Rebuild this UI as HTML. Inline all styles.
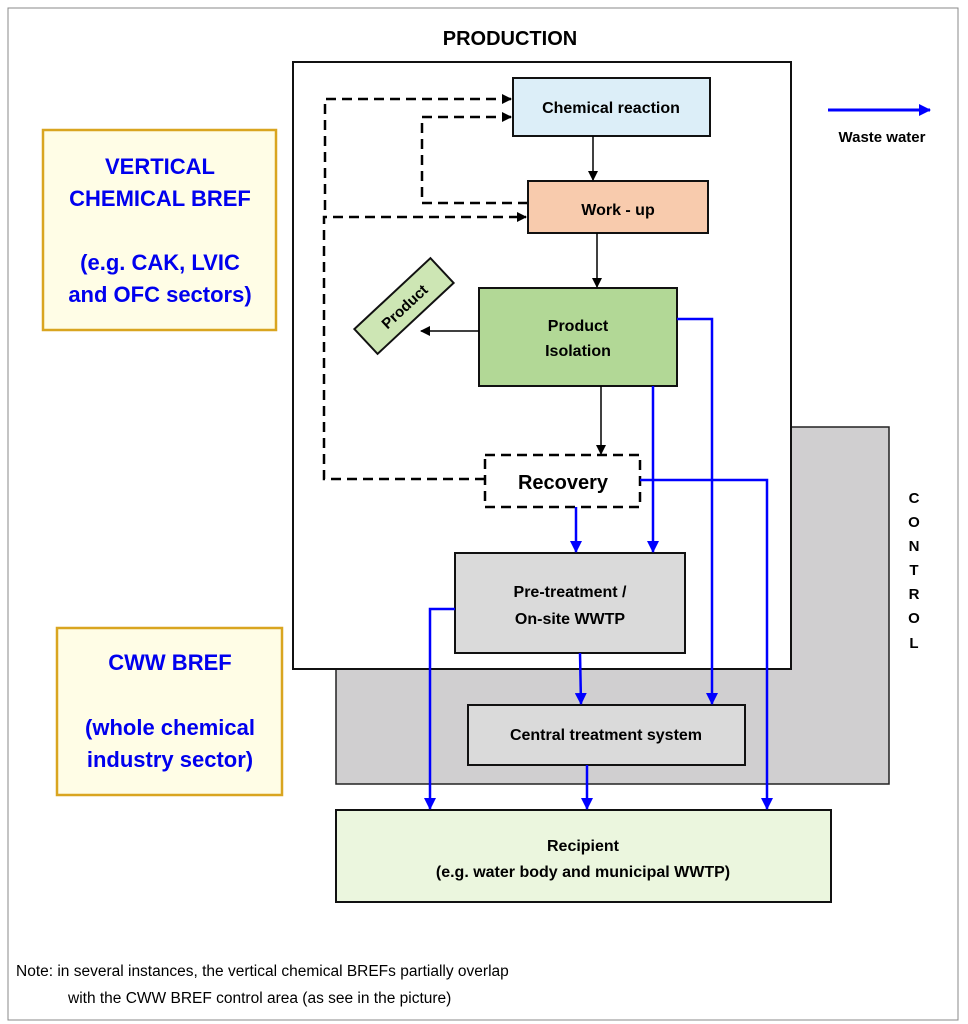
<!DOCTYPE html>
<html><head><meta charset="utf-8"><style>
body{margin:0;background:#fff}
svg{display:block}
text{font-family:"Liberation Sans",sans-serif}
</style></head><body>
<svg width="968" height="1024" viewBox="0 0 968 1024" xmlns="http://www.w3.org/2000/svg">
<defs>
<marker id="ab" markerWidth="10" markerHeight="10" refX="9" refY="5" orient="auto" markerUnits="userSpaceOnUse"><path d="M0,0 L10,5 L0,10 Z" fill="#000"/></marker>
<marker id="au" markerWidth="12" markerHeight="12" refX="11" refY="6" orient="auto" markerUnits="userSpaceOnUse"><path d="M0,0 L12,6 L0,12 Z" fill="#0000ff"/></marker>
</defs>
<rect x="8" y="8" width="950" height="1012" fill="#fff" stroke="#888" stroke-width="1"/>
<text x="510" y="45" font-size="20" font-weight="bold" text-anchor="middle">PRODUCTION</text>
<rect x="336" y="427" width="553" height="357" fill="#d0cfd0" stroke="#222" stroke-width="1.5"/>
<rect x="293" y="62" width="498" height="607" fill="#fff" stroke="#111" stroke-width="2"/>
<g font-size="15" font-weight="bold" text-anchor="middle">
<text x="914" y="503">C</text><text x="914" y="527">O</text><text x="914" y="551">N</text><text x="914" y="575">T</text><text x="914" y="599">R</text><text x="914" y="623">O</text><text x="914" y="648">L</text>
</g>
<line x1="828" y1="110" x2="930" y2="110" stroke="#0000ff" stroke-width="3" marker-end="url(#au)"/>
<text x="882" y="142" font-size="15" font-weight="bold" text-anchor="middle">Waste water</text>
<rect x="43" y="130" width="233" height="200" fill="#fffde6" stroke="#d9a520" stroke-width="2.5"/>
<g font-size="22" font-weight="bold" fill="#0000ee" text-anchor="middle">
<text x="160" y="174">VERTICAL</text><text x="160" y="206">CHEMICAL BREF</text>
<text x="160" y="270">(e.g. CAK, LVIC</text><text x="160" y="302">and OFC sectors)</text>
</g>
<rect x="57" y="628" width="225" height="167" fill="#fffde6" stroke="#d9a520" stroke-width="2.5"/>
<g font-size="22" font-weight="bold" fill="#0000ee" text-anchor="middle">
<text x="170" y="670">CWW BREF</text>
<text x="170" y="735">(whole chemical</text><text x="170" y="767">industry sector)</text>
</g>
<!-- dashed -->
<g fill="none" stroke="#000" stroke-width="2.5" stroke-dasharray="10,6">
<path d="M325,210 L325,99 L511,99" marker-end="url(#ab)"/>
<path d="M528,203 L422,203 L422,117 L511,117" marker-end="url(#ab)"/>
<path d="M485,479 L324,479 L324,217 L526,217" marker-end="url(#ab)"/>
</g>
<!-- boxes -->
<rect x="513" y="78" width="197" height="58" fill="#dceef8" stroke="#111" stroke-width="2"/>
<text x="611" y="113" font-size="16" font-weight="bold" text-anchor="middle">Chemical reaction</text>
<rect x="528" y="181" width="180" height="52" fill="#f8cbad" stroke="#111" stroke-width="2"/>
<text x="618" y="215" font-size="16" font-weight="bold" text-anchor="middle">Work - up</text>
<rect x="479" y="288" width="198" height="98" fill="#b2d896" stroke="#111" stroke-width="2"/>
<text x="578" y="331" font-size="16" font-weight="bold" text-anchor="middle">Product</text>
<text x="578" y="356" font-size="16" font-weight="bold" text-anchor="middle">Isolation</text>
<g transform="translate(404,306) rotate(-43)">
<rect x="-52" y="-17" width="104" height="34" fill="#cde6b4" stroke="#111" stroke-width="2"/>
<text x="0" y="6" font-size="15" font-weight="bold" text-anchor="middle">Product</text>
</g>
<rect x="485" y="455" width="155" height="52" fill="#fff" stroke="#000" stroke-width="2.5" stroke-dasharray="10,6"/>
<text x="563" y="489" font-size="20" font-weight="bold" text-anchor="middle">Recovery</text>
<rect x="455" y="553" width="230" height="100" fill="#dadada" stroke="#111" stroke-width="2"/>
<text x="570" y="597" font-size="16" font-weight="bold" text-anchor="middle">Pre-treatment /</text>
<text x="570" y="624" font-size="16" font-weight="bold" text-anchor="middle">On-site WWTP</text>
<rect x="468" y="705" width="277" height="60" fill="#dadada" stroke="#111" stroke-width="2"/>
<text x="606" y="740" font-size="16" font-weight="bold" text-anchor="middle">Central treatment system</text>
<rect x="336" y="810" width="495" height="92" fill="#ebf6de" stroke="#111" stroke-width="2"/>
<text x="583" y="851" font-size="16" font-weight="bold" text-anchor="middle">Recipient</text>
<text x="583" y="877" font-size="16" font-weight="bold" text-anchor="middle">(e.g. water body and municipal WWTP)</text>
<!-- black arrows -->
<g stroke="#000" stroke-width="1.5" fill="none">
<line x1="593" y1="136" x2="593" y2="180" marker-end="url(#ab)"/>
<line x1="597" y1="233" x2="597" y2="287" marker-end="url(#ab)"/>
<line x1="479" y1="331" x2="421" y2="331" marker-end="url(#ab)"/>
<line x1="601" y1="386" x2="601" y2="454" marker-end="url(#ab)"/>
</g>
<!-- blue -->
<g stroke="#0000ff" stroke-width="2.5" fill="none">
<path d="M677,319 L712,319 L712,704" marker-end="url(#au)"/>
<path d="M653,386 L653,552" marker-end="url(#au)"/>
<path d="M640,480 L767,480 L767,809" marker-end="url(#au)"/>
<path d="M576,507 L576,552" marker-end="url(#au)"/>
<path d="M455,609 L430,609 L430,809" marker-end="url(#au)"/>
<path d="M580,653 L581,704" marker-end="url(#au)"/>
<path d="M587,765 L587,809" marker-end="url(#au)"/>
</g>
<text x="16" y="976" font-size="15.5">Note: in several instances, the vertical chemical BREFs partially overlap</text>
<text x="68" y="1003" font-size="15.5">with the CWW BREF control area (as see in the picture)</text>
</svg>
</body></html>
